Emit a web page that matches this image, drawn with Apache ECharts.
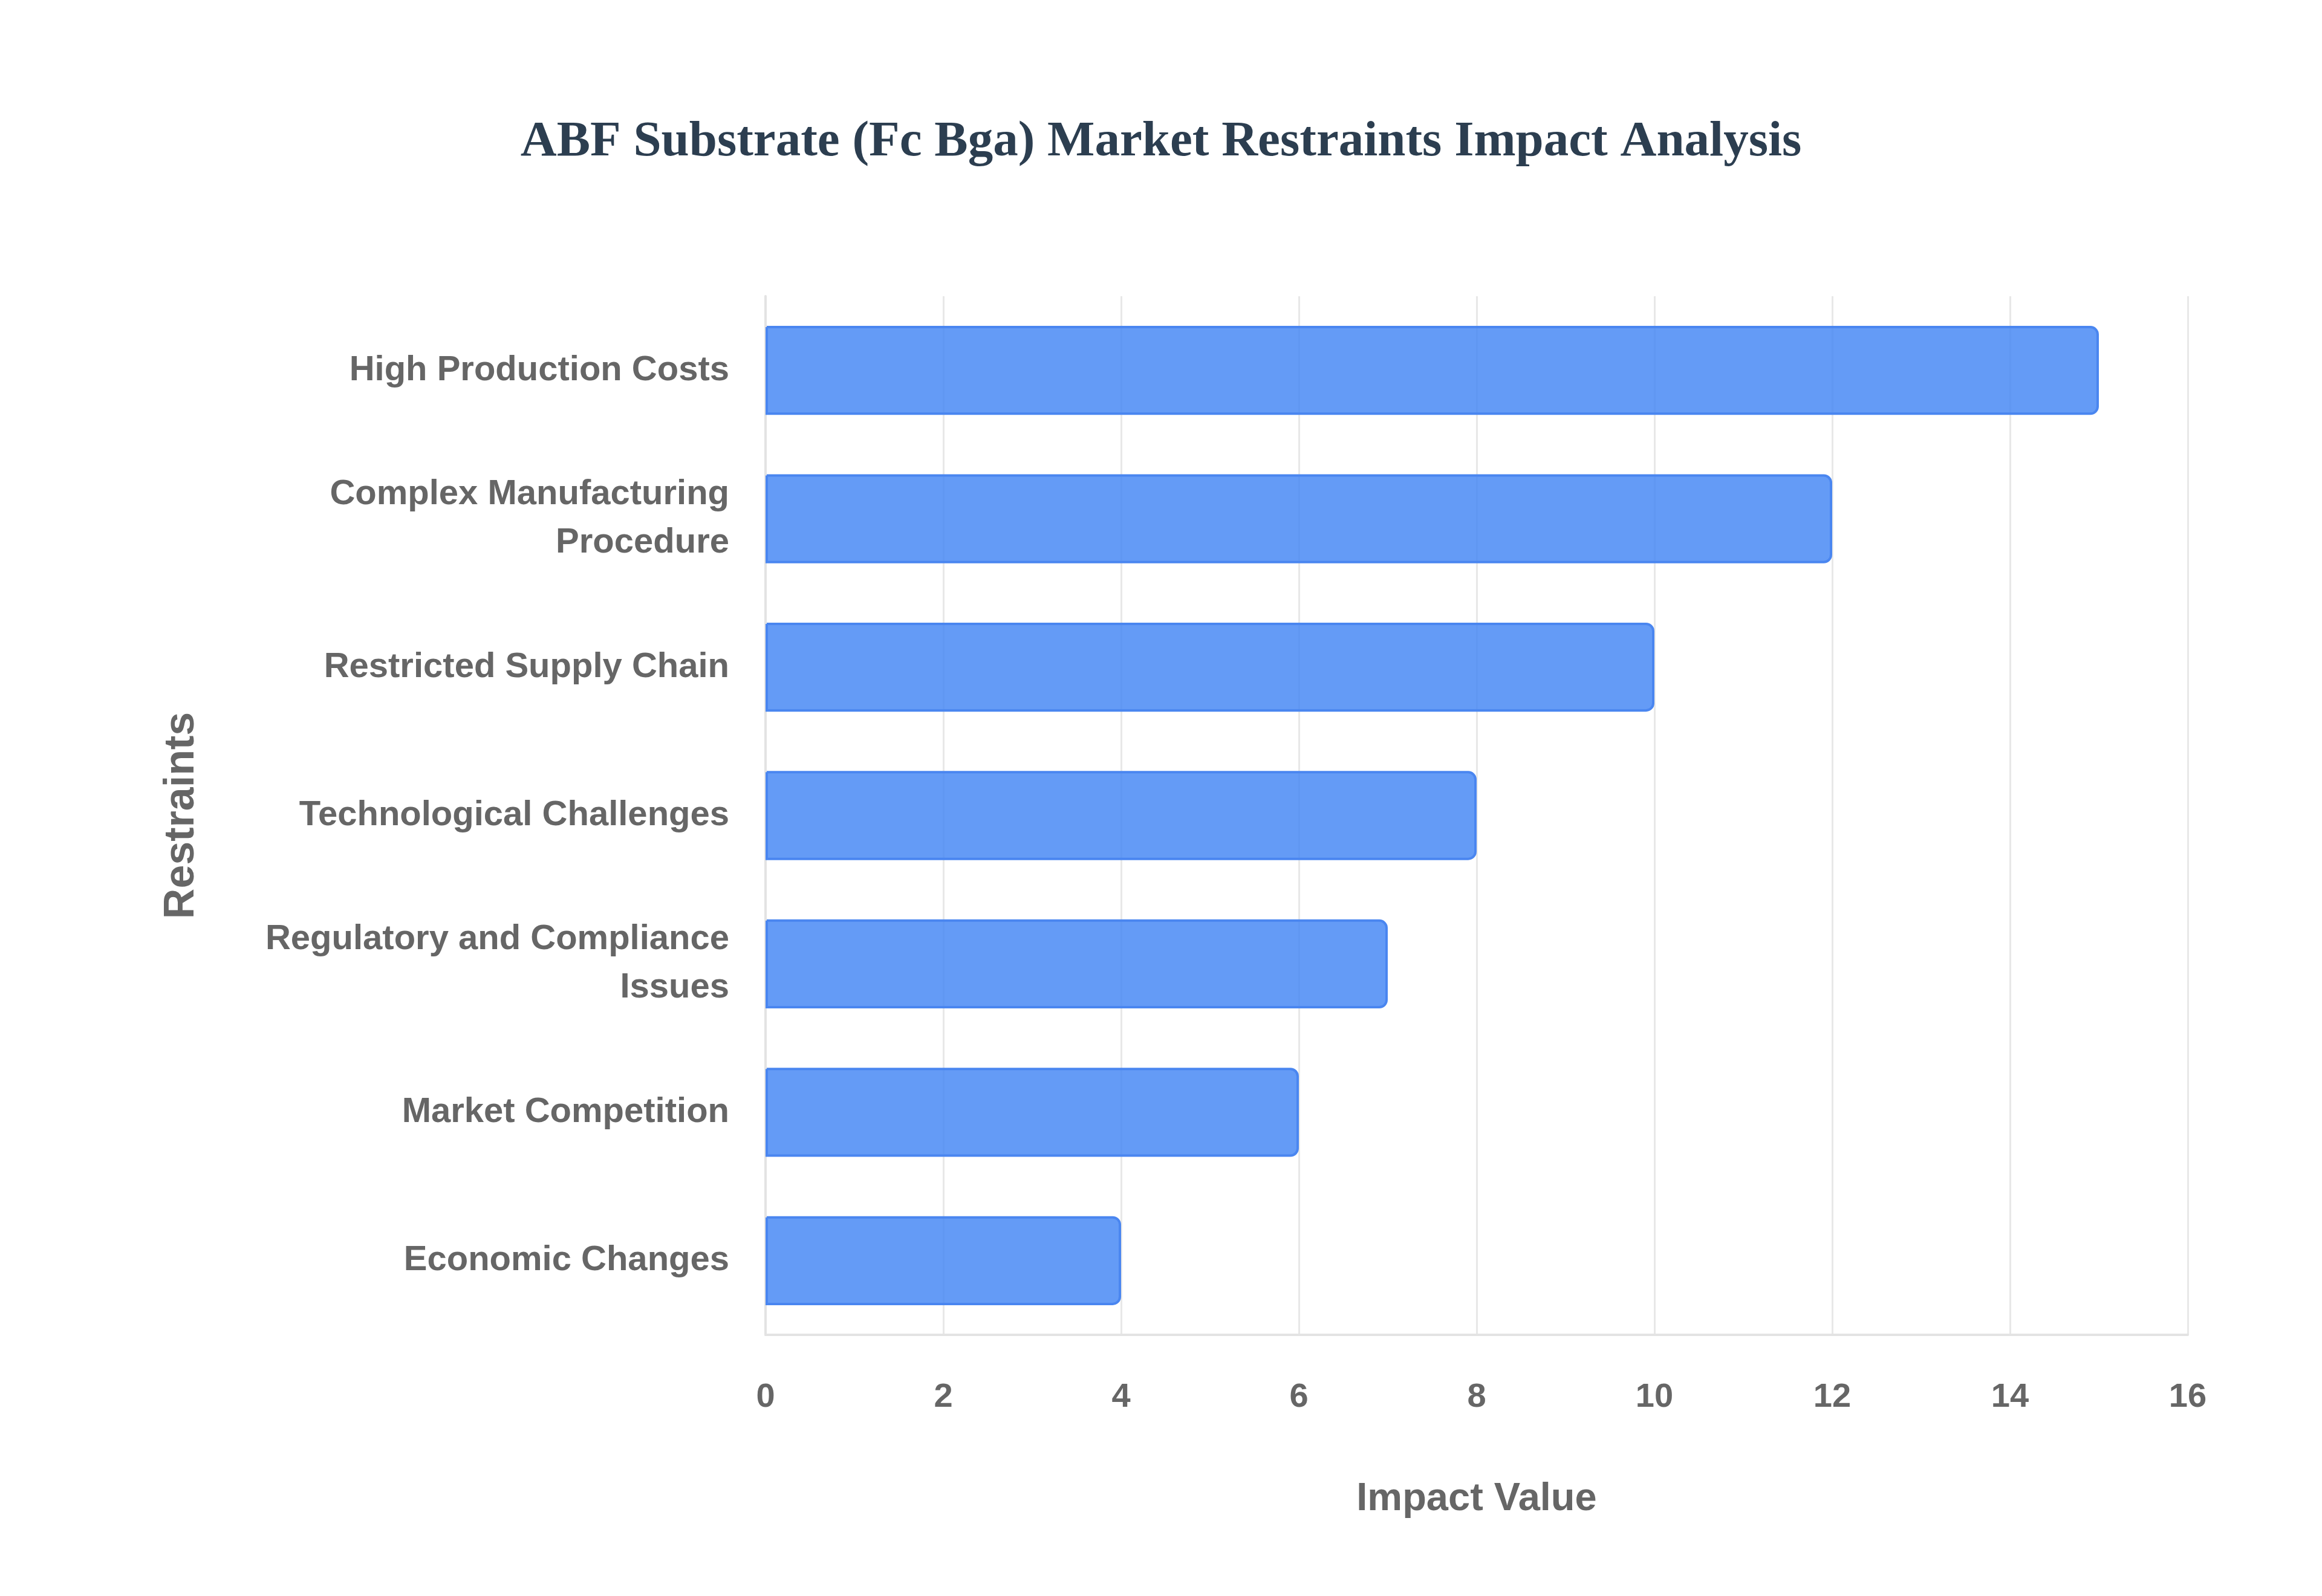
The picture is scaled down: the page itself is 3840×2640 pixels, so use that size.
<!DOCTYPE html>
<html>
<head>
    <meta charset="utf-8">
    <title>ABF Substrate Market Restraints</title>
    <script src="https://cdn.jsdelivr.net/npm/echarts@6/dist/echarts.min.js"></script>
    <style>
        html, body {
            margin: 0;
            padding: 0;
            background: #ffffff;
        }
        #chart {
            width: 3840px;
            height: 2640px;
        }
    </style>
</head>
<body>
<div id="chart"></div>
<script>
    // categories, top to bottom
    var restraints = [
        'High Production Costs',
        'Complex Manufacturing\nProcedure',
        'Restricted Supply Chain',
        'Technological Challenges',
        'Regulatory and Compliance\nIssues',
        'Market Competition',
        'Economic Changes'
    ];
    var impactValues = [15, 12, 10, 8, 7, 6, 4];
    var xTicks = [0, 2, 4, 6, 8, 10, 12, 14, 16];

    var chart = echarts.init(document.getElementById('chart'));

    var labelFont = {
        fontFamily: 'Liberation Sans, Arial, sans-serif',
        fontWeight: 'bold',
        color: '#666666'
    };

    var option = {
        backgroundColor: '#ffffff',
        animation: false,
        title: {
            text: 'ABF Substrate (Fc Bga) Market Restraints Impact Analysis',
            left: 'center',
            top: 189,
            textStyle: {
                fontFamily: 'Liberation Serif, Times New Roman, serif',
                fontWeight: 'bold',
                fontSize: 83,
                color: '#2c3e50'
            }
        },
        grid: {
            left: 1266,
            right: 222,
            top: 490,
            bottom: 432,
            containLabel: false
        },
        xAxis: {
            type: 'value',
            min: xTicks[0],
            max: xTicks[xTicks.length - 1],
            interval: 2,
            name: 'Impact Value',
            nameLocation: 'middle',
            nameGap: 240,
            nameTextStyle: Object.assign({ fontSize: 65 }, labelFont),
            axisLine: { show: true, lineStyle: { color: '#e3e3e3', width: 4 } },
            axisTick: { show: false },
            axisLabel: Object.assign({ fontSize: 56, margin: 76 }, labelFont),
            splitLine: { show: true, lineStyle: { color: '#e8e8e8', width: 3 } }
        },
        yAxis: {
            type: 'category',
            data: restraints,
            inverse: true,
            name: 'Restraints',
            nameLocation: 'middle',
            nameGap: 930,
            nameRotate: 90,
            nameTextStyle: Object.assign({ fontSize: 70 }, labelFont),
            axisLine: { show: true, lineStyle: { color: '#e3e3e3', width: 4 } },
            axisTick: { show: false },
            axisLabel: Object.assign({ fontSize: 58, margin: 60, align: 'right', lineHeight: 80 }, labelFont),
            splitLine: { show: false }
        },
        series: [{
            type: 'bar',
            data: impactValues,
            barWidth: '60%',
            itemStyle: {
                color: 'rgba(66, 133, 244, 0.82)',
                borderColor: '#4a86f0',
                borderWidth: 4,
                borderRadius: [0, 12, 12, 0]
            }
        }]
    };

    chart.setOption(option);
</script>
</body>
</html>
